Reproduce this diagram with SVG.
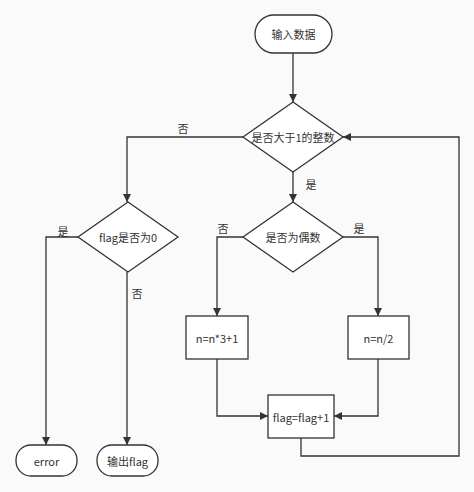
<svg xmlns="http://www.w3.org/2000/svg" width="474" height="492" viewBox="0 0 474 492">
<defs>
<marker id="ah" viewBox="0 0 10 10" refX="10" refY="5" markerWidth="8" markerHeight="8" markerUnits="userSpaceOnUse" orient="auto">
<path d="M0,0 L10,5 L0,10 z" fill="#333"/>
</marker>
<style>
.s{fill:#fff;stroke:#333;stroke-width:1.3}
.c{fill:none;stroke:#333;stroke-width:1.3;marker-end:url(#ah)}
.l{fill:none;stroke:#333;stroke-width:1.3}
text{font-family:"Noto Sans CJK SC","Noto Sans",sans-serif;font-size:11px;fill:#333;text-anchor:middle;dominant-baseline:central}
</style>
</defs>
<rect width="474" height="492" fill="#fafafa"/>
<g id="connectors">
<path class="c" d="M293,53 V102"/>
<path class="c" d="M293,172 V202"/>
<path class="c" d="M243,137 H127 V202"/>
<path class="c" d="M78,237 H46 V445"/>
<path class="c" d="M127,272 V445"/>
<path class="c" d="M243,237 H217 V316"/>
<path class="c" d="M343,237 H378 V316"/>
<path class="c" d="M217,359 V416 H268"/>
<path class="c" d="M378,359 V416 H334"/>
<path class="c" d="M301,438 V456 H459 V137 H343"/>
<text x="183" y="128">否</text>
<text x="311" y="184">是</text>
<text x="63" y="231">是</text>
<text x="137" y="293">否</text>
<text x="223" y="228">否</text>
<text x="359" y="228">是</text>
</g>
<g id="start">
<rect class="s" x="255" y="15" width="77" height="38" rx="19"/>
<text x="293.5" y="34">输入数据</text>
</g>
<g id="d1">
<polygon class="s" points="293,102 343,137 293,172 243,137"/>
<text x="293" y="137">是否大于1的整数</text>
</g>
<g id="d2">
<polygon class="s" points="293,202 343,237 293,272 243,237"/>
<text x="293" y="237">是否为偶数</text>
</g>
<g id="dflag">
<polygon class="s" points="128,202 178,237 128,272 78,237"/>
<text x="128" y="237">flag是否为0</text>
</g>
<g id="error">
<rect class="s" x="16" y="445" width="61" height="31" rx="15"/>
<text x="46.5" y="461">error</text>
</g>
<g id="out">
<rect class="s" x="97" y="445" width="61" height="31" rx="15"/>
<text x="127.5" y="461">输出flag</text>
</g>
<g id="odd">
<rect class="s" x="186" y="316" width="62" height="43"/>
<text x="217" y="337.5">n=n*3+1</text>
</g>
<g id="even">
<rect class="s" x="348" y="316" width="61" height="43"/>
<text x="378.5" y="337.5">n=n/2</text>
</g>
<g id="inc">
<rect class="s" x="268" y="395" width="66" height="43"/>
<text x="301" y="416.5">flag=flag+1</text>
</g>
</svg>
